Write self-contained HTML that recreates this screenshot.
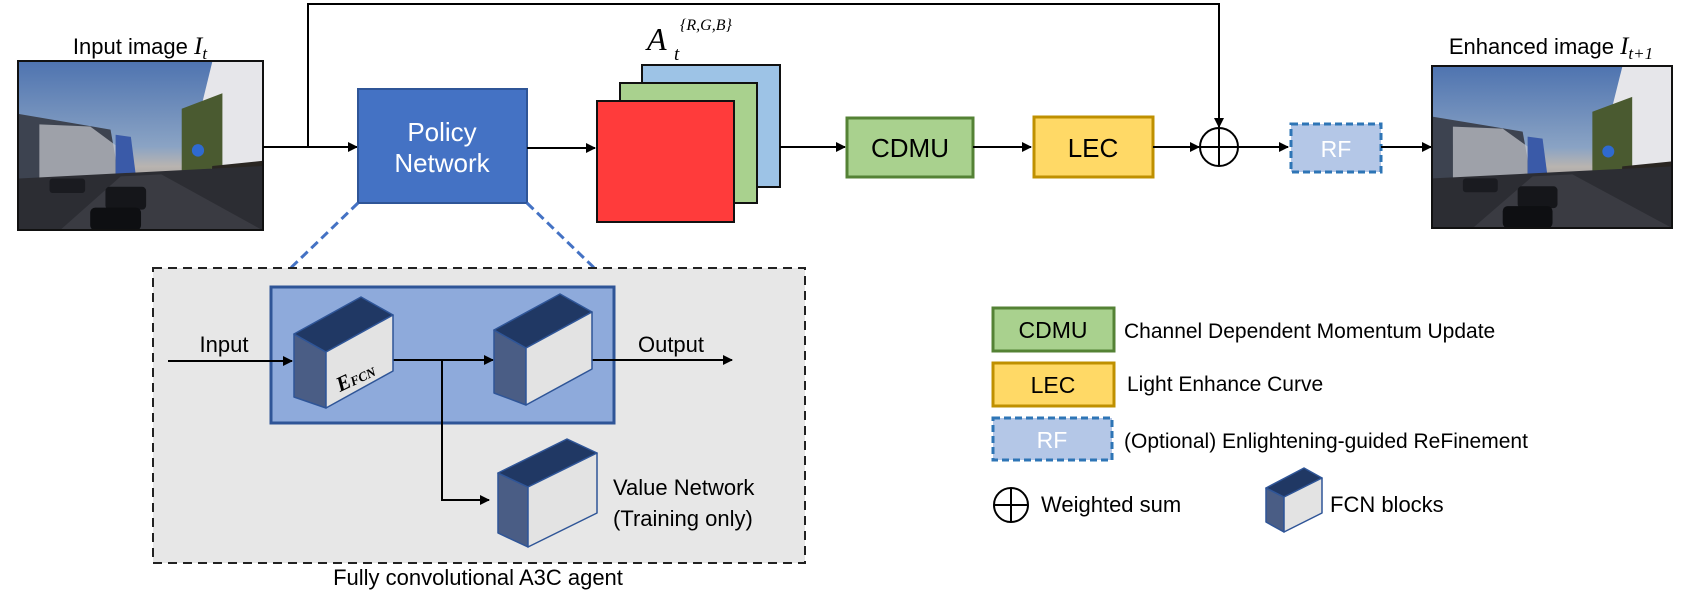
<!DOCTYPE html>
<html><head><meta charset="utf-8"><style>
html,body{margin:0;padding:0;background:#fff;}
svg{display:block;}
text{font-family:"Liberation Sans",sans-serif;}
text.serif{font-family:"Liberation Serif",serif;font-style:italic;}
</style></head><body>
<svg width="1689" height="592" viewBox="0 0 1689 592" xmlns="http://www.w3.org/2000/svg">
<defs>
<marker id="ar" markerWidth="10" markerHeight="10" refX="9" refY="5" orient="auto" markerUnits="userSpaceOnUse">
<path d="M0,0 L10,5 L0,10 z" fill="#000"/></marker>
<linearGradient id="sky" x1="0" y1="0" x2="0" y2="1">
<stop offset="0" stop-color="#4f74b0"/><stop offset="0.5" stop-color="#8aa3c4"/><stop offset="0.62" stop-color="#b9b4b0"/><stop offset="1" stop-color="#5c5c64"/></linearGradient>
<g id="scene">
<rect x="0" y="0" width="240" height="162" fill="url(#sky)"/>
<polygon points="0,50 60,60 90,65 100,120 0,125" fill="#3d4350"/>
<polygon points="20,60 70,62 95,80 95,115 20,118" fill="#c7c9cf" opacity="0.7"/>
<polygon points="95,70 110,72 115,110 95,112" fill="#3a5aa8"/>
<polygon points="190,0 240,0 240,135 185,135 180,40" fill="#e6e6ea"/>
<polygon points="160,45 200,30 200,100 160,110" fill="#4a5a30"/>
<polygon points="190,100 240,95 240,162 185,162" fill="#2a2622"/>
<polygon points="0,112 240,100 240,162 0,162" fill="#2c2d33"/>
<polygon points="100,110 140,108 240,162 40,162" fill="#3a3b42"/>
<rect x="85" y="120" width="40" height="22" rx="4" fill="#15161a"/>
<rect x="70" y="140" width="50" height="22" rx="5" fill="#0e0f12"/>
<rect x="30" y="112" width="35" height="14" rx="3" fill="#1a1b20"/>
<circle cx="176" cy="85" r="6" fill="#2f6ad0"/>
</g>
</defs>

<text x="140" y="54" font-size="22" text-anchor="middle">Input image <tspan font-family="Liberation Serif,serif" font-style="italic" font-size="25">I</tspan><tspan font-family="Liberation Serif,serif" font-style="italic" font-size="17" dy="5">t</tspan></text>
<g transform="translate(19,62) scale(1.017,1.04)"><use href="#scene"/></g>
<rect x="18" y="61" width="245" height="169" fill="none" stroke="#111" stroke-width="2"/>

<polyline points="263,147 357,147" fill="none" stroke="#000" stroke-width="2" marker-end="url(#ar)"/>
<polyline points="308,147 308,4 1219,4 1219,127" fill="none" stroke="#000" stroke-width="2" marker-end="url(#ar)"/>

<rect x="358" y="89" width="169" height="114" fill="#4472c4" stroke="#2f5597" stroke-width="2"/>
<text x="442" y="141" font-size="26" fill="#fff" text-anchor="middle">Policy</text>
<text x="442" y="172" font-size="26" fill="#fff" text-anchor="middle">Network</text>
<line x1="527" y1="148" x2="595" y2="148" stroke="#000" stroke-width="2" marker-end="url(#ar)"/>

<text class="serif" x="647" y="50" font-size="32">A</text>
<text class="serif" x="680" y="30" font-size="16">{R,G,B}</text>
<text class="serif" x="674" y="60" font-size="19">t</text>
<rect x="642" y="65" width="138" height="122" fill="#9dc3e6" stroke="#111" stroke-width="2"/>
<rect x="620" y="83" width="137" height="120" fill="#a9d18e" stroke="#111" stroke-width="2"/>
<rect x="597" y="101" width="137" height="121" fill="#ff3b3b" stroke="#111" stroke-width="2"/>

<line x1="780" y1="147" x2="845" y2="147" stroke="#000" stroke-width="2" marker-end="url(#ar)"/>
<rect x="847" y="118" width="126" height="59" fill="#a9d18e" stroke="#548235" stroke-width="3"/>
<text x="910" y="157" font-size="26" text-anchor="middle">CDMU</text>
<line x1="973" y1="147" x2="1031" y2="147" stroke="#000" stroke-width="2" marker-end="url(#ar)"/>
<rect x="1034" y="117" width="119" height="60" fill="#ffd966" stroke="#bf9000" stroke-width="3"/>
<text x="1093" y="157" font-size="26" text-anchor="middle">LEC</text>
<line x1="1153" y1="147" x2="1199" y2="147" stroke="#000" stroke-width="2" marker-end="url(#ar)"/>
<circle cx="1219" cy="147" r="19" fill="#fff" stroke="#000" stroke-width="2"/>
<line x1="1200" y1="147" x2="1238" y2="147" stroke="#000" stroke-width="2"/>
<line x1="1219" y1="128" x2="1219" y2="166" stroke="#000" stroke-width="2"/>
<line x1="1238" y1="147" x2="1288" y2="147" stroke="#000" stroke-width="2" marker-end="url(#ar)"/>
<rect x="1291" y="124" width="90" height="48" fill="#b4c7e7" stroke="#2e75b6" stroke-width="3" stroke-dasharray="7,4"/>
<text x="1336" y="157" font-size="23" fill="#fff" text-anchor="middle">RF</text>
<line x1="1381" y1="147" x2="1431" y2="147" stroke="#000" stroke-width="2" marker-end="url(#ar)"/>

<text x="1551" y="54" font-size="22" text-anchor="middle">Enhanced image <tspan font-family="Liberation Serif,serif" font-style="italic" font-size="25">I</tspan><tspan font-family="Liberation Serif,serif" font-style="italic" font-size="17" dy="5">t+1</tspan></text>
<g transform="translate(1433,67) scale(0.996,0.994)"><use href="#scene"/></g>
<rect x="1432" y="66" width="240" height="162" fill="none" stroke="#111" stroke-width="2"/>

<line x1="358" y1="203" x2="271" y2="287" stroke="#4472c4" stroke-width="3" stroke-dasharray="9,5"/>
<line x1="527" y1="203" x2="614" y2="287" stroke="#4472c4" stroke-width="3" stroke-dasharray="9,5"/>

<rect x="153" y="268" width="652" height="295" fill="#e7e7e7" stroke="#222" stroke-width="2" stroke-dasharray="9,6"/>
<rect x="271" y="287" width="343" height="136" fill="#8eaadb" stroke="#2f5597" stroke-width="3"/>
<text x="478" y="585" font-size="22" text-anchor="middle">Fully convolutional A3C agent</text>

<text x="224" y="352" font-size="22" text-anchor="middle">Input</text>
<line x1="168" y1="361" x2="292" y2="361" stroke="#000" stroke-width="2" marker-end="url(#ar)"/>
<line x1="393" y1="360" x2="493" y2="360" stroke="#000" stroke-width="2" marker-end="url(#ar)"/>
<line x1="592" y1="360" x2="732" y2="360" stroke="#000" stroke-width="2" marker-end="url(#ar)"/>
<text x="671" y="352" font-size="22" text-anchor="middle">Output</text>
<polyline points="442,360 442,500 489,500" fill="none" stroke="#000" stroke-width="2" marker-end="url(#ar)"/>

<g stroke="#2f5597" stroke-width="1.5" stroke-linejoin="round">
<polygon points="294,334 326,352 326,408 294,397" fill="#4a5d85"/>
<polygon points="294,334 361,297 393,315 326,352" fill="#203864"/>
<polygon points="326,352 393,315 393,371 326,408" fill="#e3e3e3"/>
<polygon points="494,330 526,348 526,405 494,393" fill="#4a5d85"/>
<polygon points="494,330 560,294 592,312 526,348" fill="#203864"/>
<polygon points="526,348 592,312 592,369 526,405" fill="#e3e3e3"/>
<polygon points="498,473 528,487 528,547 498,533" fill="#4a5d85"/>
<polygon points="498,473 567,439 597,453 528,487" fill="#203864"/>
<polygon points="528,487 597,453 597,513 528,547" fill="#e3e3e3"/>
<polygon points="1266,488 1284,497 1284,532 1266,522" fill="#4a5d85"/>
<polygon points="1266,488 1304,468 1322,478 1284,497" fill="#203864"/>
<polygon points="1284,497 1322,478 1322,513 1284,532" fill="#e3e3e3"/>
</g>
<text class="serif" transform="translate(340,392) rotate(-25)" font-weight="bold" font-size="21">E<tspan font-size="13">FCN</tspan></text>

<text x="613" y="495" font-size="22">Value Network</text>
<text x="613" y="526" font-size="22">(Training only)</text>

<rect x="993" y="308" width="121" height="43" fill="#a9d18e" stroke="#548235" stroke-width="3"/>
<text x="1053" y="338" font-size="23" text-anchor="middle">CDMU</text>
<text x="1124" y="338" font-size="21">Channel Dependent Momentum Update</text>
<rect x="993" y="363" width="121" height="43" fill="#ffd966" stroke="#bf9000" stroke-width="3"/>
<text x="1053" y="393" font-size="23" text-anchor="middle">LEC</text>
<text x="1127" y="391" font-size="21">Light Enhance Curve</text>
<rect x="993" y="418" width="119" height="42" fill="#b4c7e7" stroke="#2e75b6" stroke-width="3" stroke-dasharray="7,4"/>
<text x="1052" y="448" font-size="23" fill="#fff" text-anchor="middle">RF</text>
<text x="1124" y="448" font-size="21">(Optional) Enlightening-guided ReFinement</text>
<circle cx="1011" cy="505" r="17" fill="#fff" stroke="#000" stroke-width="2"/>
<line x1="994" y1="505" x2="1028" y2="505" stroke="#000" stroke-width="2"/>
<line x1="1011" y1="488" x2="1011" y2="522" stroke="#000" stroke-width="2"/>
<text x="1041" y="512" font-size="22">Weighted sum</text>
<text x="1330" y="512" font-size="22">FCN blocks</text>
</svg>
</body></html>
